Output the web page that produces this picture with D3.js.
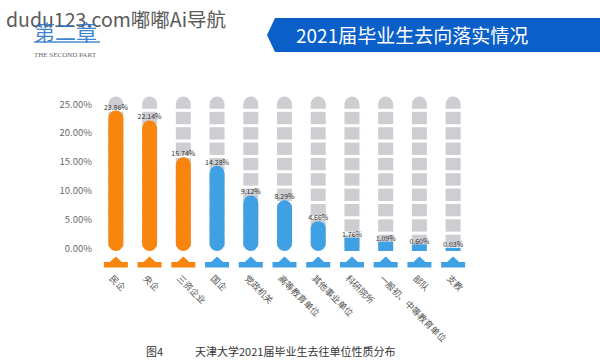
<!DOCTYPE html>
<html>
<head>
<meta charset="utf-8">
<script src="https://cdn.jsdelivr.net/npm/d3@7"></script>
<style>
  html, body { margin: 0; padding: 0; background: #fff; }
  svg { display: block; font-family: "Noto Sans CJK SC", "Noto Sans", sans-serif; }
</style>
</head>
<body>
<svg id="chart" width="600" height="360"></svg>
<script>
const categories = ["民企", "央企", "三资企业", "国企", "党政机关", "高等教育单位", "其他事业单位", "科研院所", "一般初、中等教育单位", "部队", "支教"];
const values = [23.86, 22.14, 15.74, 14.28, 9.12, 8.29, 4.66, 1.76, 1.09, 0.60, 0.03];
const valueLabels = ["23.86%", "22.14%", "15.74%", "14.28%", "9.12%", "8.29%", "4.66%", "1.76%", "1.09%", "0.60%", "0.03%"];
const colourGroups = ["企业", "企业", "企业", "其他", "其他", "其他", "其他", "其他", "其他", "其他", "其他"];
const yTicks = [0, 5, 10, 15, 20, 25];
const yTickLabels = ["0.00%", "5.00%", "10.00%", "15.00%", "20.00%", "25.00%"];
const trackMax = 26.3;
const pageTitle = "2021届毕业生去向落实情况";
const figureNo = "图4";
const caption = "天津大学2021届毕业生去往单位性质分布";

const svg = d3.select("#chart");

// ---- header ----
svg.append("text").attr("x", 6).attr("y", 27)
  .attr("font-size", 19.5).attr("fill", "#4a4a4a").attr("opacity", 0.9)
  .text("dudu123.com嘟嘟Ai导航");
svg.append("text").attr("x", 34).attr("y", 40)
  .attr("font-size", 21).attr("fill", "#1f6fc6").attr("opacity", 0.85)
  .text("第二章");
svg.append("line").attr("x1", 34).attr("x2", 100).attr("y1", 42).attr("y2", 42)
  .attr("stroke", "#1f6fc6").attr("stroke-width", 1.5).attr("opacity", 0.8);
svg.append("text").attr("x", 34).attr("y", 57)
  .attr("font-size", 7).attr("font-family", "Liberation Serif, serif").attr("fill", "#666")
  .text("THE SECOND PART");

svg.append("path")
  .attr("d", "M275,18 L600,18 L600,52 L275,52 L267,35 Z")
  .attr("fill", "#0a5fc9");
svg.append("text").attr("x", 296).attr("y", 42.5)
  .attr("font-size", 19).attr("fill", "#fff")
  .text(pageTitle);

// ---- chart ----
const x = d3.scaleBand().domain(categories).range([99, 470]).padding(0);
const y = d3.scaleLinear().domain([0, 25]).range([248, 104]);
const colour = d3.scaleOrdinal().domain(["企业", "其他"]).range(["#f8850e", "#3fa1e4"]);
const bw = 15;
const cx = d => x(d) + x.bandwidth() / 2;

// y axis labels
const yAxis = d3.axisLeft(y).tickValues(yTicks).tickSize(0).tickPadding(0)
  .tickFormat((d, i) => yTickLabels[i]);
const gy = svg.append("g").attr("transform", "translate(92,0)").call(yAxis);
gy.select(".domain").remove();
gy.selectAll("text").attr("font-size", 9.5).attr("fill", "#6a6a6a")
  .attr("font-family", "Noto Sans CJK SC, sans-serif");

// gray segmented tracks
const trackTop = y(trackMax), trackBottom = y(0) + 2;
const nSeg = 10, gap = 3;
const segH = (trackBottom - trackTop) / nSeg;
categories.forEach(c => {
  const g = svg.append("g");
  const x0 = cx(c) - bw / 2;
  for (let i = 0; i < nSeg; i++) {
    const sy = trackTop + i * segH;
    const h = segH - gap;
    if (i === 0) {
      const r = bw / 2;
      g.append("path")
        .attr("d", `M${x0},${sy + h} L${x0},${sy + r} A${r},${r} 0 0 1 ${x0 + bw},${sy + r} L${x0 + bw},${sy + h} Z`)
        .attr("fill", "#cdcdd2");
    } else {
      g.append("rect").attr("x", x0).attr("y", sy).attr("width", bw).attr("height", h)
        .attr("fill", "#cdcdd2");
    }
  }
});

// colored bars
const bottom = y(0) + 3;
const barH = v => Math.max(0, bottom - y(v));
svg.append("g").selectAll("rect").data(categories).join("rect")
  .attr("x", d => cx(d) - bw / 2)
  .attr("y", (d, i) => y(values[i]))
  .attr("width", bw)
  .attr("height", (d, i) => barH(values[i]))
  .attr("rx", (d, i) => barH(values[i]) > bw * 1.3 ? bw / 2 : 0.5)
  .attr("fill", (d, i) => colour(colourGroups[i]));

// value labels
svg.append("g").selectAll("text").data(categories).join("text")
  .attr("x", d => cx(d))
  .attr("y", (d, i) => y(values[i]) - 1)
  .attr("text-anchor", "middle")
  .attr("font-size", 7).attr("fill", "#333")
  .text((d, i) => valueLabels[i]);

// bases
svg.append("g").selectAll("path").data(categories).join("path")
  .attr("d", d => {
    const c = cx(d);
    return `M${c - 12},262 L${c - 6},262 L${c},256.5 L${c + 6},262 L${c + 12},262 L${c + 12},267.5 L${c - 12},267.5 Z`;
  })
  .attr("fill", (d, i) => colour(colourGroups[i]));

// x labels rotated
svg.append("g").selectAll("text").data(categories).join("text")
  .attr("transform", d => `translate(${cx(d) - 7},279) rotate(45)`)
  .attr("font-size", 9).attr("fill", "#555")
  .text(d => d);

// caption
svg.append("text").attr("x", 146).attr("y", 356)
  .attr("font-size", 11).attr("fill", "#333")
  .text(figureNo);
svg.append("text").attr("x", 195).attr("y", 356)
  .attr("font-size", 11).attr("fill", "#333")
  .text(caption);
</script>
</body>
</html>
